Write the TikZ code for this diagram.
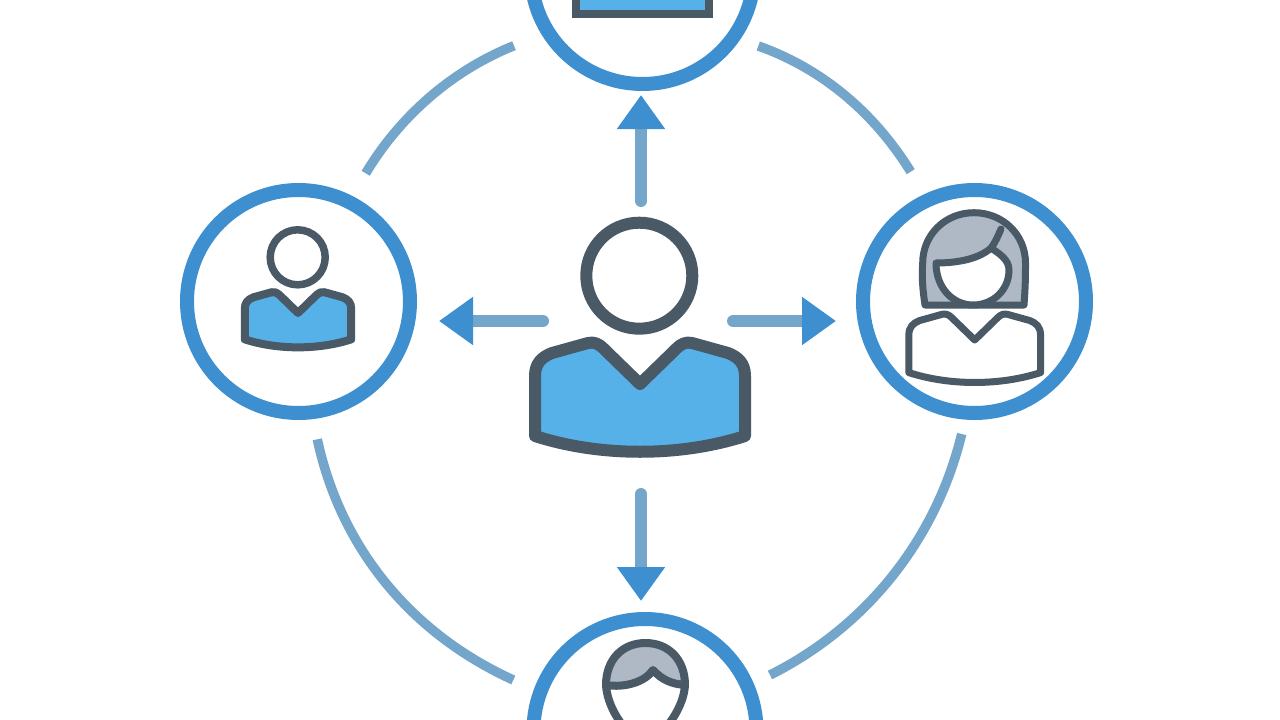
\documentclass[tikz,border=0pt]{standalone}
\usetikzlibrary{arrows.meta}
\definecolor{ringblue}{HTML}{3D8FD0}
\definecolor{linkblue}{HTML}{74A5CA}
\definecolor{darkline}{HTML}{4A5966}
\definecolor{fillblue}{HTML}{56B1E9}
\definecolor{hairgrey}{HTML}{AEB9C5}
\tikzset{
  outerring/.style={circle,draw=ringblue,line width=14pt,fill=white,minimum size=223pt,inner sep=0pt,outer sep=0pt},
  headring/.style={circle,draw=darkline,fill=white,inner sep=0pt,outer sep=0pt},
  orbit/.style={draw=linkblue,line width=9.5pt},
  spoke/.style={draw=linkblue,line width=12pt,line cap=round,-{Triangle[length=34pt,width=46pt,color=ringblue]}},
  bodyline/.style={draw=darkline,line join=round,line cap=round},
}
\newcommand{\bodyshape}{(-105,52) .. controls (-40,73) and (40,73) .. (105,52) -- (105,-8) .. controls (105,-21) and (98,-27) .. (88,-31) -- (52,-41) .. controls (46,-42.5) and (41,-40) .. (37,-36) -- (0,0) -- (-37,-36) .. controls (-41,-40) and (-46,-42.5) .. (-52,-41) -- (-88,-31) .. controls (-98,-27) and (-105,-21) .. (-105,-8) -- cycle}
\begin{document}
\begin{tikzpicture}[x=1pt,y=-1pt]
\useasboundingbox (0,0) rectangle (1280,720);
\clip (0,0) rectangle (1280,720);
\fill[white] (0,0) rectangle (1280,720);

% free ends of the ring segments
\coordinate (tlA) at (365.7,173.3); \coordinate (tlB) at (514,45.7);
\coordinate (trA) at (758.3,46);  \coordinate (trB) at (910.7,171.7);
\coordinate (blA) at (317.3,439.3); \coordinate (blB) at (513.3,680);
\coordinate (brA) at (961.7,434); \coordinate (brB) at (770,675);
\draw[orbit] (tlA) .. controls (403,111) and (458,68) .. (tlB);
\draw[orbit] (trA) .. controls (815,66) and (870,106) .. (trB);
\draw[orbit] (blA) .. controls (340,545) and (408,632) .. (blB);
\draw[orbit] (brA) .. controls (936,540) and (866,627) .. (brB);

% outer circles
\node[outerring] (topc) at (642.5,-27.5) {};
\node[outerring] (leftc) at (298.5,301.5) {};
\node[outerring] (rightc) at (974.5,301.5) {};
\node[outerring] (botc) at (645,730.5) {};

% spokes
\coordinate (upS) at (641,201);   \coordinate (upE) at (641,95);
\coordinate (downS) at (641,494); \coordinate (downE) at (641,601);
\coordinate (leftS) at (543,321); \coordinate (leftE) at (439,321);
\coordinate (rightS) at (733,321);\coordinate (rightE) at (836,321);
\draw[spoke] (upS) -- (upE);
\draw[spoke] (downS) -- (downE);
\draw[spoke] (leftS) -- (leftE);
\draw[spoke] (rightS) -- (rightE);

% centre person
\node[headring,line width=12pt,minimum size=106pt] (chead) at (639.3,275.7) {};
\begin{scope}[shift={(640,384)}]
  \draw[bodyline,fill=fillblue,line width=12pt] \bodyshape;
\end{scope}

% left person
\node[headring,line width=7.5pt,minimum size=55pt] (lhead) at (297.7,257.3) {};
\begin{scope}[shift={(298,313)},scale=0.507]
  \draw[bodyline,fill=fillblue,line width=8pt] \bodyshape;
\end{scope}

% right person
\draw[bodyline,fill=hairgrey,line width=7pt] (925,305) .. controls (922,285) and (922,275) .. (922.7,263) .. controls (922.7,235) and (945,212.7) .. (974,212.7) .. controls (1003,212.7) and (1025.5,235) .. (1025.5,263) .. controls (1025.5,275) and (1025.5,285) .. (1024,305) -- cycle;
\fill[white] (936,263) .. controls (960,263) and (980,258) .. (991,248) .. controls (1000,254) and (1009,260) .. (1009,270) .. controls (1009,290) and (993,305) .. (973,305) .. controls (953,305) and (936,288) .. (936,263) -- cycle;
\draw[bodyline,line width=7pt] (1001,229) .. controls (998,236) and (995,243) .. (991,248) .. controls (980,258) and (960,263) .. (936,263) .. controls (936,288) and (953,305) .. (973,305) .. controls (993,305) and (1009,290) .. (1009,270) .. controls (1009,260) and (1000,254) .. (991,248);
\begin{scope}[shift={(974.7,340)},scale=0.627]
  \draw[bodyline,fill=white,line width=7pt] \bodyshape;
\end{scope}

% bottom person
\draw[bodyline,fill=white,line width=8pt] (606,685) .. controls (607,705) and (622,732) .. (645,745) .. controls (668,732) and (684,705) .. (685,685);
\fill[hairgrey] (606,685) .. controls (606,660) and (622,643) .. (645.5,643) .. controls (669,643) and (685,660) .. (685,685) .. controls (672,684) and (662,680) .. (653,670) .. controls (645,682) and (625,688) .. (606,685) -- cycle;
\draw[bodyline,line width=8pt] (606,685) .. controls (606,660) and (622,643) .. (645.5,643) .. controls (669,643) and (685,660) .. (685,685) .. controls (672,684) and (662,680) .. (653,670) .. controls (645,682) and (625,688) .. (606,685);

% top figure
\draw[bodyline,fill=fillblue,line width=8pt,line join=miter] (576,-20) -- (576,14) -- (709,14) -- (709,-20) -- cycle;
\end{tikzpicture}
\end{document}
